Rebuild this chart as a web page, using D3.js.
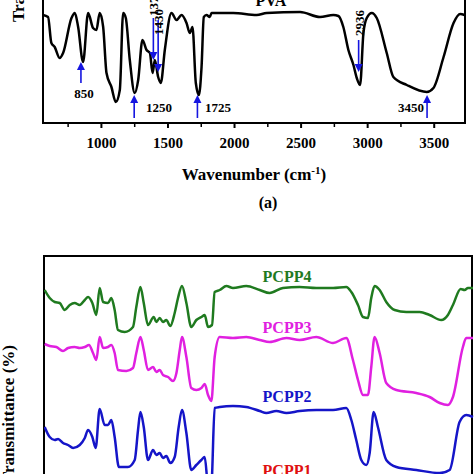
<!DOCTYPE html><html><head><meta charset="utf-8">
<script src="https://cdn.jsdelivr.net/npm/d3@7"></script>
<style>body{margin:0;background:#fff}text{font-family:"Liberation Serif","Times New Roman",serif;font-weight:bold}</style>
</head><body><svg id="c" width="474" height="474"></svg>
<script>
const pvaX=[565,603,628,653,690,716,779,804,829,866,904,941,966,991,1017,1042,1079,1112,1142,1167,1187,1217,1254,1280,1312,1343,1368,1388,1405,1430,1450,1480,1530,1568,1606,1643,1668,1688,1713,1736,1756,1773,1793,1818,1831,1994,2170,2245,2496,2646,2746,2784,2821,2859,2897,2922,2947,2972,2997,3035,3072,3147,3197,3298,3448,3498,3574,3649,3699,3732];
const pvaY=[108,106,80,76,65,70,105,110,96,61,110,95,93,110,96,50,36,21,33,110,105,63,30,43,83,73,70,50,63,46,40,73,110,103,108,100,90,96,40,28,56,106,108,106,110,110,108,110,111,106,108,107,96,73,58,45,38,90,105,110,105,70,46,38,31,35,66,100,109,108];
const p4X=[578,616,654,691,729,767,804,842,880,905,937,967,992,1018,1055,1080,1105,1130,1181,1243,1268,1299,1324,1356,1399,1419,1444,1469,1494,1524,1557,1582,1612,1645,1682,1720,1758,1783,1808,1838,1858,1896,1946,1996,2096,2197,2272,2372,2498,2623,2749,2849,2887,2937,2975,3012,3037,3062,3100,3150,3213,3301,3401,3476,3564,3614,3652,3710,3740,3765,3803];
const p4Y=[184,176,172,171,164,169,171,169,174,177,171,159,186,172,171,176,164,144,142,147,167,187,171,149,157,152,156,152,154,148,161,176,188,171,147,154,157,159,147,149,182,184,188,186,188,184,181,186,187,186,186,187,182,169,157,156,176,188,184,172,164,162,162,159,154,159,169,185,184,186,186];
const p3X=[578,616,666,716,754,804,842,880,912,942,967,992,1018,1055,1080,1105,1130,1193,1243,1268,1299,1324,1356,1394,1419,1444,1469,1507,1544,1570,1595,1612,1645,1682,1720,1758,1783,1808,1833,1858,1896,1996,2096,2197,2272,2398,2498,2623,2749,2849,2899,2937,2975,3012,3037,3062,3100,3150,3226,3376,3476,3552,3614,3652,3727,3752,3803];
const p3Y=[130,128,127,123,126,127,126,127,129,121,114,137,126,127,129,121,104,103,106,121,137,124,104,107,102,104,99,97,93,101,124,137,117,86,84,86,90,79,73,117,137,136,137,134,132,136,134,137,131,136,114,94,79,79,107,137,121,91,84,81,77,71,69,77,127,136,136];
const p2X=[578,616,654,679,716,754,792,842,880,905,937,962,992,1030,1055,1080,1105,1137,1205,1256,1281,1299,1324,1356,1394,1419,1444,1469,1494,1524,1557,1587,1612,1645,1682,1720,1758,1783,1808,1833,1858,1896,1996,2096,2197,2247,2322,2398,2498,2623,2749,2849,2887,2924,2962,3000,3025,3055,3087,3150,3226,3376,3552,3627,3702,3752,3803];
const p2Y=[47,37,34,35,31,29,26,29,36,44,37,26,65,49,49,54,37,7,7,14,44,62,47,14,24,19,21,16,18,11,17,47,64,41,4,9,14,17,-10,-10,66,67,68,67,63,61,63,61,63,64,64,66,54,34,14,9,21,62,47,14,7,4,1,4,52,59,57];
const xTicks=[1000,1500,2000,2500,3000,3500];
const peaksUp=[850,1250,1725,3450];
const peaksDown=[1374,1430,2936];

const svg=d3.select("#c");
const xT=d3.scaleLinear().domain([565,3735]).range([43,465]);
const yT=d3.scaleLinear().domain([0,123]).range([123,0]);
const xB=d3.scaleLinear().domain([573,3803]).range([44,473]);
const yB=d3.scaleLinear().domain([0,234]).range([474,240]);
// top frame
svg.append("rect").attr("x",43).attr("y",-20).attr("width",422).attr("height",143).attr("fill","none").attr("stroke","#000").attr("stroke-width",2);
const ax=svg.append("g").attr("transform","translate(0,123)").call(d3.axisBottom(xT).tickValues(xTicks).tickFormat(d3.format("d")).tickSize(5).tickPadding(9));
ax.select(".domain").remove();
ax.selectAll("line").attr("stroke-width",2);
ax.selectAll("text").style("font-size","15px").attr("fill","#000");
svg.append("g").attr("transform","translate(0,123)").call(d3.axisBottom(xT).tickValues([750,1250,1750,2250,2750,3250,3750].filter(v=>v<3735)).tickFormat("").tickSize(4)).call(g=>{g.select(".domain").remove();g.selectAll("line").attr("stroke-width",1.5);});
const line=(xs,ys,x,y)=>d3.line().curve(d3.curveMonotoneX).x((d,i)=>x(xs[i])).y((d,i)=>y(ys[i]))(ys);
svg.append("path").attr("d",line(pvaX,pvaY,xT,yT)).attr("fill","none").attr("stroke","#000").attr("stroke-width",2.5);
svg.append("text").attr("x",271).attr("y",6).attr("text-anchor","middle").style("font-size","16px").text("PVA");
svg.append("text").attr("x",254).attr("y",180).attr("text-anchor","middle").style("font-size","17px").html('Wavenumber (cm<tspan dy="-6" font-size="11px">-1</tspan><tspan dy="6">)</tspan>');
svg.append("text").attr("x",268).attr("y",208).attr("text-anchor","middle").style("font-size","16px").text("(a)");
svg.append("text").attr("transform","translate(24,22) rotate(-90)").style("font-size","17px").text("Transmittance (%)");
// arrows
const blue="#1515e0";
const arrow=(x,y1,y2)=>{const dir=y2<y1?-1:1;
 svg.append("line").attr("x1",x).attr("x2",x).attr("y1",y1).attr("y2",y2-dir*6).attr("stroke",blue).attr("stroke-width",1.6);
 svg.append("path").attr("d",`M${x-4},${y2-dir*8}L${x+4},${y2-dir*8}L${x},${y2}Z`).attr("fill",blue);};
const upY={850:[83,62],1250:[118,95],1725:[118,95],3450:[118,95]};
peaksUp.forEach(p=>arrow(xT(p),upY[p][0],upY[p][1]));
const dnY={1374:[18,60],1430:[20,72],2936:[40,72]};
peaksDown.forEach(p=>arrow(xT(p===1374?1394:p),dnY[p][0],dnY[p][1]));
const lab=(x,y,t,a)=>svg.append("text").attr("x",x).attr("y",y).attr("text-anchor",a).style("font-size","13px").text(t);
lab(84,98,"850","middle");lab(146,112,"1250","start");lab(205,112,"1725","start");lab(424,112,"3450","end");
[[1374,1394,16],[1430,1430,35],[2936,2936,36]].forEach(([t,w,y])=>svg.append("text").attr("transform",`translate(${xT(w)+5},${y}) rotate(-90)`).style("font-size","13px").text(t));
// bottom panel
svg.append("defs").append("clipPath").attr("id","cb").append("rect").attr("x",44).attr("y",256).attr("width",430).attr("height",220);
svg.append("rect").attr("x",44).attr("y",256).attr("width",428).attr("height",230).attr("fill","none").attr("stroke","#000").attr("stroke-width",2);
const g=svg.append("g").attr("clip-path","url(#cb)");
[[p4X,p4Y,"#1f7a1f"],[p3X,p3Y,"#e020e0"],[p2X,p2Y,"#1515c8"]].forEach(([xs,ys,c])=>g.append("path").attr("d",line(xs,ys,xB,yB)).attr("fill","none").attr("stroke",c).attr("stroke-width",2.5));
[["PCPP4",282,"#1f7a1f"],["PCPP3",333,"#e020e0"],["PCPP2",402,"#1515c8"],["PCPP1",476,"#e01010"]].forEach(([t,y,c])=>svg.append("text").attr("x",287).attr("y",y).attr("text-anchor","middle").attr("fill",c).style("font-size","16px").text(t));
svg.append("text").attr("transform","translate(14,345) rotate(-90)").attr("text-anchor","end").style("font-size","17px").text("Transmittance (%)");
</script></body></html>
